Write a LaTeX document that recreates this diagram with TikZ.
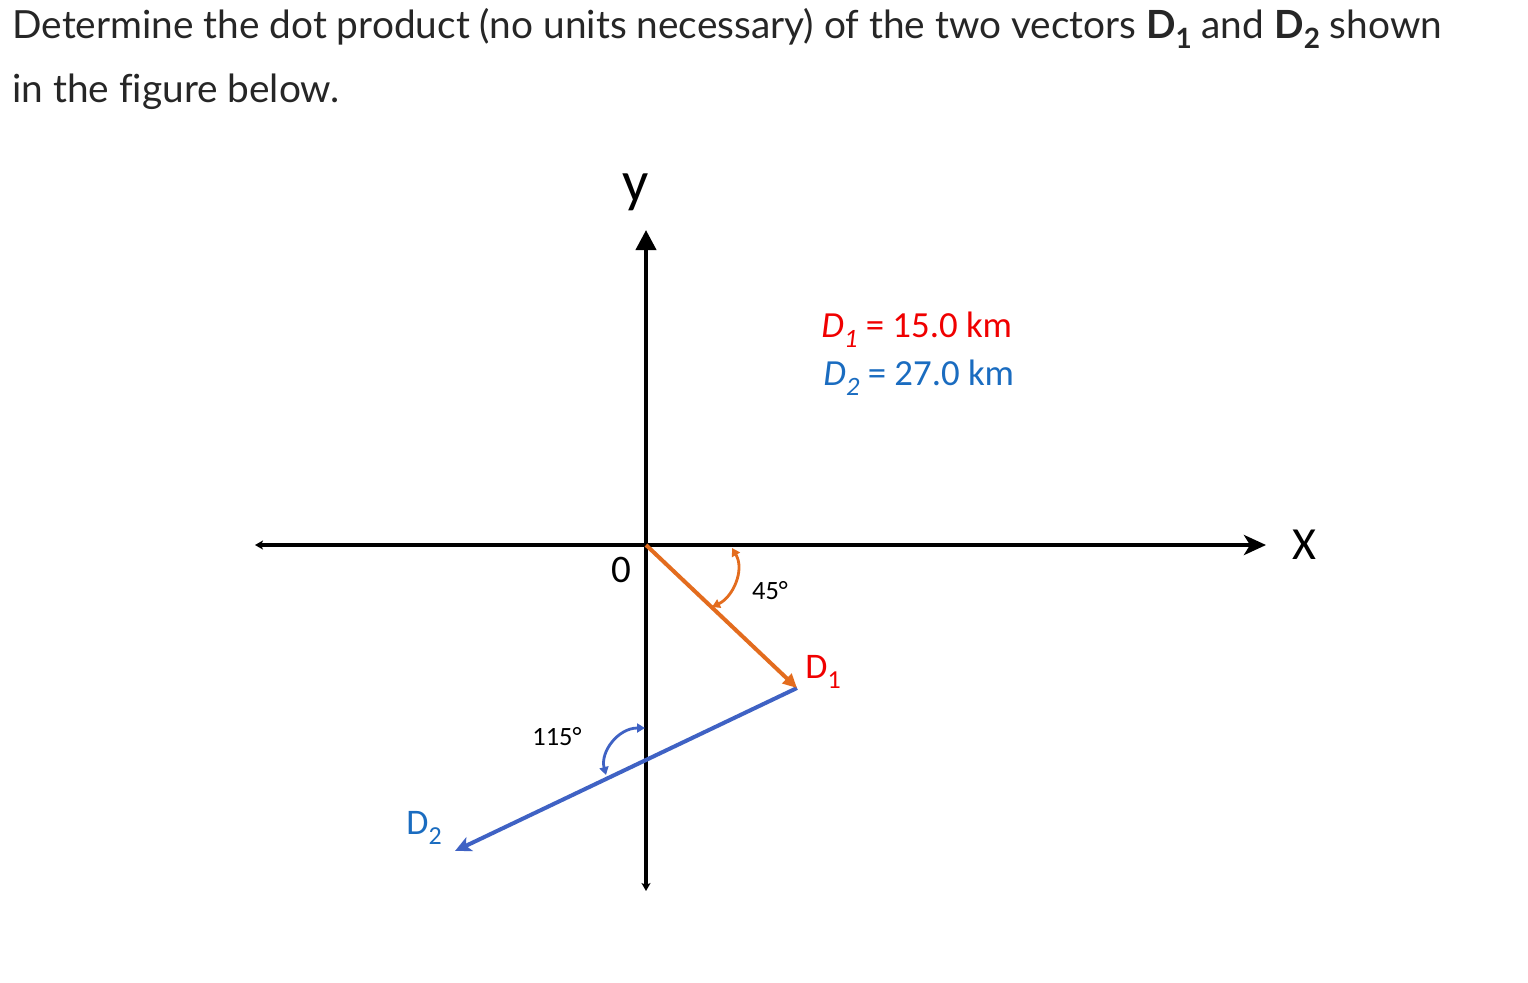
\documentclass[tikz,border=0pt]{standalone}
\usepackage{fontspec}
\setmainfont[Ligatures=CommonOff]{Lato}
\newfontfamily\calib{Carlito}
\usetikzlibrary{arrows.meta}
\definecolor{hdr}{HTML}{262626}
\definecolor{dorange}{HTML}{E36C1E}
\definecolor{dblue}{HTML}{3F62C4}
\definecolor{dtblue}{HTML}{1A6CC0}
\definecolor{dred}{HTML}{F00000}
\newcommand{\lowsub}[1]{\raisebox{-0.28em}{\scalebox{0.72}{#1}}}
\begin{document}
\begin{tikzpicture}[x=0.5pt,y=-0.5pt,
  hdrtext/.style={anchor=base west,inner sep=0pt,text=hdr,font=\fontsize{19.4}{23}\selectfont},
  lbl/.style={anchor=base,inner sep=0pt,font=\calib\fontsize{18}{21}\selectfont},
  anglbl/.style={anchor=base,inner sep=0pt,font=\calib\fontsize{13.2}{16}\selectfont},
  axisline/.style={line width=2pt,black},
  vecone/.style={line width=2pt,dorange,-{Triangle[length=7pt,width=6.5pt]}},
  vectwo/.style={line width=2pt,dblue,-{Stealth[length=8pt,width=7.5pt,inset=2pt]}},
  arcone/.style={line width=1.4pt,dorange,{Triangle[length=4pt,width=4.5pt]}-{Triangle[length=4pt,width=4.5pt]}},
  arctwo/.style={line width=1.4pt,dblue,{Triangle[length=4pt,width=4.5pt]}-{Triangle[length=4pt,width=4.5pt]}}
]
\useasboundingbox (0,0) rectangle (1528,982);
\fill[white] (0,0) rectangle (1528,982);

% header
\node[hdrtext] (h1) at (12,38) {Determine the dot product (no units necessary) of the two vectors \textbf{D\lowsub{1}} and \textbf{D\lowsub{2}} shown};
\node[hdrtext] (h2) at (12,102) {in the figure below.};

% axis points
\coordinate (O) at (646,545);
\coordinate (xL) at (255,545);
\coordinate (xR) at (1266,545);
\coordinate (yT) at (646,230);
\coordinate (yB) at (646,891);
\coordinate (P1) at (797,688);
\coordinate (P2) at (455,851);

% axes
\draw[axisline,-{Stealth[length=11pt,width=10pt,inset=3pt]}] (O) -- (xR);
\draw[axisline,-{Stealth[length=4pt,width=4.5pt,inset=1pt]}] (O) -- (xL);
\draw[axisline,-{Triangle[length=10pt,width=10pt]}] (O) -- (yT);
\draw[axisline,-{Stealth[length=4pt,width=4.5pt,inset=1pt]}] (O) -- (yB);

\node[inner sep=0pt,anchor=base,font=\calib\fontsize{29}{32}\selectfont] (ylab) at (636,201) {y};
\node[inner sep=0pt,anchor=base,font=\calib\fontsize{23}{26}\selectfont] (xlab) at (1304,559) {X};
\node[inner sep=0pt,anchor=base,font=\calib\fontsize{19.5}{22}\selectfont] (zero) at (621,582) {0};

% vectors
\draw[vectwo] (P1) -- (P2);
\draw[vecone] (O) -- (P1);

% angle arcs
\coordinate (a1s) at (712,607);
\coordinate (a1e) at (732,548);
\draw[arcone] (a1s) .. controls (733,597) and (745,570) .. (a1e);
\coordinate (a2s) at (606,775);
\coordinate (a2e) at (645,728);
\draw[arctwo] (a2s) .. controls (600,752) and (618,728) .. (a2e);

\node[anglbl] (l45) at (770,599) {45°};
\node[anglbl] (l115) at (557,745) {115°};

% vector labels
\node[lbl,text=dred] (d1lab) at (823,678) {D\lowsub{1}};
\node[lbl,text=dtblue] (d2lab) at (424,834) {D\lowsub{2}};

\node[lbl,anchor=base west,text=dred,font=\calib\fontsize{18.4}{21}\selectfont] (m1) at (821,337) {\itshape D\lowsub{1} \upshape = 15.0 km};
\node[lbl,anchor=base west,text=dtblue,font=\calib\fontsize{18.4}{21}\selectfont] (m2) at (823,385) {\itshape D\lowsub{2} \upshape = 27.0 km};
\end{tikzpicture}
\end{document}
